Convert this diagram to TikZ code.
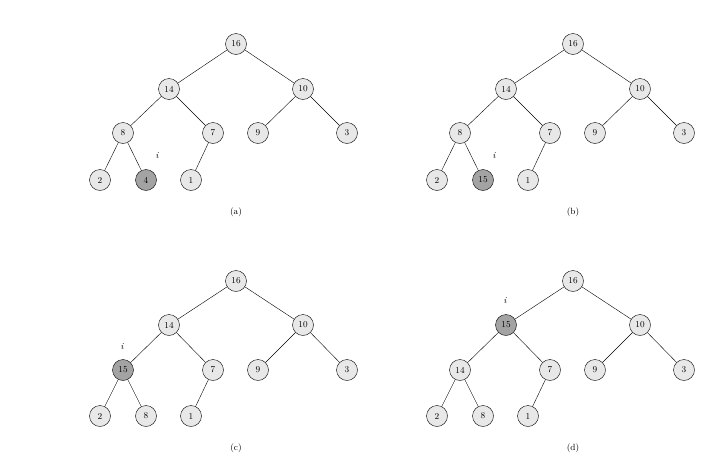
\documentclass[tikz,border=0pt]{standalone}
\usepackage{xcolor}
\definecolor{lite}{HTML}{E8E8E8}
\definecolor{dark}{HTML}{A3A3A3}
\tikzset{hn/.style={circle,draw,fill=lite,minimum size=21pt,inner sep=0pt,font=\small},
 hd/.style={hn,fill=dark},
 lbl/.style={font=\small},
 edge/.style={draw,line width=0.5pt}}
\newcommand\myheap[8]{% prefix, dx, dy, labels...
}
\begin{document}
\begin{tikzpicture}[x=1pt,y=-1pt]
\useasboundingbox (0,0) rectangle (726,472);
% (a)
\node[hn] (a1) at (236,44) {16};
\node[hn] (a2) at (169,89) {14};
\node[hn] (a3) at (303,89) {10};
\node[hn] (a4) at (123,133) {8};
\node[hn] (a5) at (213,133) {7};
\node[hn] (a6) at (258,133) {9};
\node[hn] (a7) at (347,133) {3};
\node[hn] (a8) at (100,180) {2};
\node[hd] (a9) at (146,180) {4};
\node[hn] (a10) at (191,180) {1};
\node[lbl] (ac) at (236,212) {(a)};
\node[lbl] (ai) at (157,156) {\itshape i};
% (b)
\node[hn] (b1) at (573,44) {16};
\node[hn] (b2) at (506,89) {14};
\node[hn] (b3) at (640,89) {10};
\node[hn] (b4) at (460,133) {8};
\node[hn] (b5) at (550,133) {7};
\node[hn] (b6) at (595,133) {9};
\node[hn] (b7) at (684,133) {3};
\node[hn] (b8) at (437,180) {2};
\node[hd] (b9) at (483,180) {15};
\node[hn] (b10) at (528,180) {1};
\node[lbl] (bc) at (573,212) {(b)};
\node[lbl] (bi) at (494,156) {\itshape i};
% (c)
\node[hn] (c1) at (236,281) {16};
\node[hn] (c2) at (169,325) {14};
\node[hn] (c3) at (303,325) {10};
\node[hd] (c4) at (123,370) {15};
\node[hn] (c5) at (213,370) {7};
\node[hn] (c6) at (258,370) {9};
\node[hn] (c7) at (347,370) {3};
\node[hn] (c8) at (100,416) {2};
\node[hn] (c9) at (146,416) {8};
\node[hn] (c10) at (191,416) {1};
\node[lbl] (cc) at (236,448) {(c)};
\node[lbl] (ci) at (122,347) {\itshape i};
% (d)
\node[hn] (d1) at (573,281) {16};
\node[hd] (d2) at (506,325) {15};
\node[hn] (d3) at (640,325) {10};
\node[hn] (d4) at (460,370) {14};
\node[hn] (d5) at (550,370) {7};
\node[hn] (d6) at (595,370) {9};
\node[hn] (d7) at (684,370) {3};
\node[hn] (d8) at (437,416) {2};
\node[hn] (d9) at (483,416) {8};
\node[hn] (d10) at (528,416) {1};
\node[lbl] (dc) at (573,448) {(d)};
\node[lbl] (di) at (505,301) {\itshape i};
\foreach \t in {a,b,c,d}{
 \draw (\t1)--(\t2); \draw (\t1)--(\t3);
 \draw (\t2)--(\t4); \draw (\t2)--(\t5);
 \draw (\t3)--(\t6); \draw (\t3)--(\t7);
 \draw (\t4)--(\t8); \draw (\t4)--(\t9);
 \draw (\t5)--(\t10);
}
\end{tikzpicture}
\end{document}
